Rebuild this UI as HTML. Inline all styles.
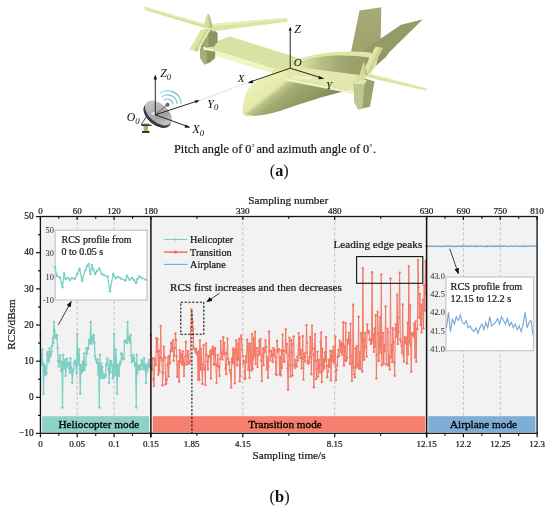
<!DOCTYPE html>
<html><head><meta charset="utf-8"><title>RCS figure</title>
<style>html,body{margin:0;padding:0;background:#fff;}svg{display:block;}#chart text{stroke:#1a1a1a;stroke-width:0.24px;} #chart text.s{stroke-width:0.05px;} #chart text.b{fill:#000;stroke:#000;stroke-width:0.3px;}</style>
</head><body>
<svg width="550" height="511" viewBox="0 0 550 511">
<defs><marker id="mt" viewBox="-2 -2 4 4" markerWidth="4" markerHeight="4" markerUnits="userSpaceOnUse"><circle r="1.25" fill="#7dcfc3"/></marker><marker id="mr" viewBox="-2 -2 4 4" markerWidth="4" markerHeight="4" markerUnits="userSpaceOnUse"><circle r="1.2" fill="#f47866"/></marker><marker id="ah" viewBox="0 0 10 10" refX="9" refY="5" markerWidth="6" markerHeight="6" orient="auto" markerUnits="userSpaceOnUse"><path d="M0,1 L10,5 L0,9 z" fill="#111"/></marker></defs>
<rect width="550" height="511" fill="#fff"/>
<g id="chart">
<rect x="40.4" y="216.5" width="496.7" height="216.8" fill="#f2f2f2"/>
<line x1="77.2" y1="216.5" x2="77.2" y2="433.3" stroke="#b4b4b4" stroke-width="0.8" stroke-dasharray="3,2.3"/>
<line x1="114.1" y1="216.5" x2="114.1" y2="433.3" stroke="#b4b4b4" stroke-width="0.8" stroke-dasharray="3,2.3"/>
<line x1="242.8" y1="216.5" x2="242.8" y2="433.3" stroke="#b4b4b4" stroke-width="0.8" stroke-dasharray="3,2.3"/>
<line x1="334.7" y1="216.5" x2="334.7" y2="433.3" stroke="#b4b4b4" stroke-width="0.8" stroke-dasharray="3,2.3"/>
<line x1="463.4" y1="216.5" x2="463.4" y2="433.3" stroke="#b4b4b4" stroke-width="0.8" stroke-dasharray="3,2.3"/>
<line x1="500.3" y1="216.5" x2="500.3" y2="433.3" stroke="#b4b4b4" stroke-width="0.8" stroke-dasharray="3,2.3"/>
<rect x="42.2" y="416.2" width="106.9" height="15.8" fill="#8ed1c7"/>
<rect x="152.8" y="416.2" width="272.3" height="15.8" fill="#f67f6f"/>
<rect x="428.3" y="416.2" width="107.0" height="15.8" fill="#7eadd5"/>
<text x="98.9" y="427.7" font-size="11.25" text-anchor="middle" class="b" fill="#111" font-family="Liberation Serif, Times New Roman, serif">Heliocopter mode</text>
<text x="285" y="427.7" font-size="11.25" text-anchor="middle" class="b" fill="#111" font-family="Liberation Serif, Times New Roman, serif">Transition mode</text>
<text x="483.5" y="427.7" font-size="11.25" text-anchor="middle" class="b" fill="#111" font-family="Liberation Serif, Times New Roman, serif">Airplane mode</text>
<polyline points="40.4,334.1 41.0,364.8 41.6,362.8 42.2,349.6 42.9,363.4 43.5,393.7 44.1,364.8 44.7,366.4 45.3,375.0 45.9,366.5 46.5,373.6 47.2,354.2 47.8,352.1 48.4,362.3 49.0,360.3 49.6,348.3 50.2,356.8 50.8,354.4 51.5,351.5 52.1,346.0 52.7,338.5 53.3,343.1 53.9,322.1 54.5,330.6 55.1,337.3 55.7,334.7 56.4,338.8 57.0,335.1 57.6,347.8 58.2,361.3 58.8,366.5 59.4,361.1 60.0,355.6 60.7,361.6 61.3,370.7 61.9,363.0 62.5,407.4 63.1,354.7 63.7,368.6 64.3,365.1 65.0,359.9 65.6,375.7 66.2,367.2 66.8,358.8 67.4,366.1 68.0,364.0 68.6,362.8 69.3,368.2 69.9,372.6 70.5,358.6 71.1,367.8 71.7,371.6 72.3,382.8 72.9,371.2 73.5,368.7 74.2,363.1 74.8,362.0 75.4,360.5 76.0,365.3 76.6,373.4 77.2,334.1 77.8,364.8 78.5,358.9 79.1,349.6 79.7,368.7 80.3,393.7 80.9,364.8 81.5,372.7 82.1,370.7 82.8,361.7 83.4,370.3 84.0,353.4 84.6,369.8 85.2,365.2 85.8,364.8 86.4,348.3 87.1,353.5 87.7,348.5 88.3,348.7 88.9,340.1 89.5,343.0 90.1,343.1 90.7,322.1 91.4,343.8 92.0,337.3 92.6,336.3 93.2,341.6 93.8,335.1 94.4,343.1 95.0,355.8 95.7,358.9 96.3,360.5 96.9,363.1 97.5,359.6 98.1,374.4 98.7,363.0 99.3,407.4 99.9,354.7 100.6,377.2 101.2,363.7 101.8,378.0 102.4,366.9 103.0,375.3 103.6,377.7 104.2,374.8 104.9,377.2 105.5,375.4 106.1,364.6 106.7,363.8 107.3,358.6 107.9,365.3 108.5,368.9 109.2,382.8 109.8,360.8 110.4,372.2 111.0,360.9 111.6,364.5 112.2,364.7 112.8,378.4 113.5,376.8 114.1,334.1 114.7,364.8 115.3,375.0 115.9,349.6 116.5,365.9 117.1,393.7 117.8,364.8 118.4,365.8 119.0,375.7 119.6,365.0 120.2,362.0 120.8,362.6 121.4,353.5 122.0,354.2 122.7,359.0 123.3,359.2 123.9,358.3 124.5,341.7 125.1,341.4 125.7,340.6 126.3,342.2 127.0,343.1 127.6,322.1 128.2,339.3 128.8,337.3 129.4,340.4 130.0,342.6 130.6,335.1 131.3,356.0 131.9,362.0 132.5,359.8 133.1,355.2 133.7,360.9 134.3,358.0 134.9,365.8 135.6,363.0 136.2,407.4 136.8,354.7 137.4,373.5 138.0,366.1 138.6,365.4 139.2,369.6 139.8,367.1 140.5,369.5 141.1,364.9 141.7,360.5 142.3,361.8 142.9,365.6 143.5,369.0 144.1,358.6 144.8,369.5 145.4,365.8 146.0,382.8 146.6,364.7 147.2,370.6 147.8,363.5 148.4,366.4 149.1,360.0 149.7,365.9 150.3,367.7" fill="none" stroke="#7dcfc3" stroke-width="1.2" marker-start="url(#mt)" marker-mid="url(#mt)" marker-end="url(#mt)"/>
<polyline points="150.9,334.8 151.5,368.4 152.1,370.1 152.7,358.2 153.4,379.5 154.0,385.9 154.6,358.5 155.2,360.1 155.8,365.0 156.4,338.3 157.0,351.8 157.6,338.9 158.3,374.6 158.9,350.8 159.5,371.7 160.1,357.5 160.7,325.9 161.3,358.0 161.9,360.3 162.5,385.3 163.2,372.7 163.8,346.6 164.4,357.4 165.0,357.8 165.6,384.3 166.2,383.6 166.8,379.8 167.4,365.1 168.1,357.3 168.7,376.4 169.3,355.8 169.9,363.4 170.5,351.8 171.1,342.7 171.7,349.9 172.3,350.7 173.0,340.1 173.6,360.8 174.2,355.1 174.8,347.9 175.4,333.4 176.0,339.9 176.6,356.3 177.2,376.8 177.9,364.0 178.5,361.2 179.1,381.7 179.7,350.2 180.3,353.3 180.9,362.3 181.5,354.4 182.1,364.5 182.8,351.3 183.4,360.0 184.0,376.1 184.6,363.9 185.2,356.4 185.8,341.8 186.4,364.5 187.0,362.4 187.7,350.9 188.3,354.5 188.9,363.8 189.5,363.0 190.1,361.2 190.7,327.9 191.3,309.5 191.9,314.5 192.6,321.4 193.2,328.6 193.8,347.8 194.4,348.5 195.0,349.6 195.6,352.1 196.2,348.9 196.9,353.2 197.5,354.7 198.1,379.8 198.7,351.3 199.3,379.8 199.9,340.4 200.5,369.9 201.1,348.6 201.8,367.9 202.4,383.7 203.0,364.7 203.6,345.2 204.2,369.2 204.8,367.5 205.4,385.1 206.0,343.5 206.7,354.9 207.3,361.5 207.9,369.3 208.5,357.6 209.1,355.9 209.7,355.6 210.3,351.3 210.9,378.5 211.6,349.5 212.2,353.9 212.8,346.8 213.4,349.8 214.0,364.8 214.6,349.3 215.2,348.0 215.8,363.9 216.5,383.1 217.1,365.8 217.7,354.9 218.3,366.4 218.9,366.5 219.5,376.0 220.1,358.9 220.7,341.1 221.4,353.1 222.0,357.0 222.6,359.6 223.2,337.3 223.8,354.4 224.4,342.8 225.0,353.1 225.6,368.7 226.3,374.0 226.9,353.6 227.5,338.8 228.1,359.1 228.7,364.3 229.3,361.9 229.9,370.2 230.5,372.9 231.2,387.4 231.8,358.6 232.4,363.3 233.0,348.4 233.6,363.3 234.2,349.8 234.8,383.2 235.4,352.5 236.1,340.4 236.7,359.1 237.3,365.2 237.9,343.8 238.5,359.5 239.1,338.9 239.7,381.2 240.3,375.9 241.0,335.8 241.6,338.9 242.2,349.6 242.8,356.1 243.4,363.6 244.0,361.1 244.6,379.0 245.3,378.4 245.9,356.3 246.5,362.1 247.1,339.7 247.7,349.4 248.3,369.7 248.9,343.6 249.5,377.8 250.2,343.6 250.8,360.1 251.4,370.5 252.0,334.0 252.6,368.8 253.2,358.3 253.8,337.8 254.4,356.1 255.1,331.7 255.7,364.0 256.3,348.3 256.9,348.1 257.5,366.9 258.1,355.3 258.7,351.3 259.3,340.6 260.0,354.2 260.6,339.0 261.2,360.7 261.8,381.1 262.4,356.6 263.0,348.7 263.6,365.1 264.2,347.9 264.9,351.7 265.5,340.4 266.1,346.7 266.7,369.4 267.3,357.5 267.9,377.8 268.5,366.8 269.1,331.5 269.8,351.2 270.4,360.2 271.0,356.3 271.6,350.6 272.2,354.4 272.8,361.9 273.4,347.9 274.0,354.9 274.7,349.9 275.3,356.9 275.9,374.0 276.5,375.1 277.1,340.8 277.7,352.0 278.3,350.9 278.9,349.3 279.6,374.3 280.2,357.1 280.8,375.4 281.4,350.4 282.0,368.1 282.6,334.4 283.2,350.9 283.8,361.6 284.5,361.8 285.1,350.6 285.7,329.3 286.3,352.5 286.9,343.9 287.5,368.2 288.1,389.8 288.8,355.8 289.4,337.6 290.0,365.5 290.6,376.5 291.2,340.0 291.8,352.4 292.4,375.5 293.0,344.3 293.7,336.5 294.3,365.6 294.9,367.7 295.5,360.1 296.1,364.1 296.7,366.4 297.3,356.8 297.9,360.6 298.6,333.1 299.2,354.8 299.8,337.5 300.4,358.1 301.0,350.0 301.6,368.2 302.2,358.6 302.8,336.0 303.5,379.5 304.1,353.6 304.7,357.6 305.3,361.3 305.9,352.4 306.5,325.2 307.1,342.6 307.7,363.5 308.4,360.5 309.0,363.1 309.6,357.3 310.2,336.9 310.8,352.5 311.4,374.3 312.0,325.7 312.6,348.6 313.3,354.9 313.9,387.3 314.5,348.3 315.1,334.1 315.7,361.0 316.3,379.0 316.9,369.0 317.5,351.7 318.2,376.6 318.8,359.9 319.4,365.2 320.0,372.4 320.6,341.9 321.2,332.5 321.8,382.0 322.4,348.7 323.1,370.4 323.7,359.2 324.3,367.9 324.9,352.3 325.5,360.9 326.1,337.0 326.7,365.9 327.3,377.2 328.0,371.4 328.6,359.6 329.2,367.0 329.8,361.1 330.4,350.9 331.0,380.3 331.6,356.3 332.2,350.7 332.9,360.8 333.5,346.9 334.1,363.3 334.7,359.0 335.3,336.4 335.9,380.3 336.5,370.2 337.2,365.1 337.8,356.9 338.4,349.9 339.0,355.9 339.6,340.7 340.2,344.9 340.8,351.9 341.4,343.0 342.1,354.6 342.7,345.1 343.3,322.2 343.9,365.5 344.5,346.0 345.1,360.5 345.7,323.3 346.3,360.9 347.0,357.9 347.6,339.7 348.2,343.3 348.8,332.6 349.4,340.0 350.0,363.8 350.6,323.8 351.2,356.2 351.9,380.9 352.5,363.1 353.1,304.8 353.7,367.4 354.3,374.3 354.9,377.3 355.5,348.5 356.1,367.7 356.8,346.2 357.4,364.2 358.0,366.5 358.6,316.7 359.2,368.7 359.8,352.4 360.4,369.0 361.0,333.3 361.7,337.9 362.3,371.5 362.9,268.3 363.5,359.7 364.1,359.3 364.7,339.6 365.3,332.9 365.9,347.0 366.6,356.5 367.2,324.4 367.8,330.8 368.4,332.5 369.0,331.4 369.6,339.7 370.2,339.0 370.8,343.9 371.5,343.3 372.1,272.3 372.7,340.6 373.3,334.6 373.9,351.7 374.5,328.4 375.1,346.7 375.7,315.2 376.4,378.4 377.0,354.8 377.6,311.7 378.2,333.7 378.8,361.0 379.4,347.0 380.0,317.3 380.7,352.6 381.3,274.4 381.9,365.2 382.5,336.6 383.1,333.0 383.7,363.6 384.3,345.3 384.9,351.1 385.6,306.5 386.2,364.2 386.8,364.4 387.4,328.7 388.0,332.5 388.6,365.9 389.2,356.1 389.8,369.6 390.5,278.4 391.1,357.5 391.7,345.0 392.3,361.9 392.9,328.2 393.5,342.4 394.1,362.3 394.7,375.7 395.4,329.6 396.0,324.3 396.6,337.0 397.2,294.7 397.8,343.9 398.4,331.9 399.0,317.6 399.6,272.6 400.3,339.6 400.9,341.9 401.5,345.8 402.1,352.6 402.7,304.4 403.3,355.0 403.9,361.6 404.5,337.1 405.2,343.3 405.8,339.5 406.4,337.4 407.0,363.3 407.6,322.7 408.2,354.4 408.8,266.1 409.4,342.5 410.1,305.3 410.7,345.0 411.3,371.7 411.9,333.7 412.5,333.0 413.1,335.0 413.7,336.4 414.3,323.7 415.0,357.2 415.6,321.4 416.2,361.7 416.8,328.6 417.4,329.1 418.0,260.3 418.6,287.4 419.2,317.8 419.9,293.9 420.5,325.0 421.1,304.8 421.7,332.2 422.3,310.9 422.9,299.7 423.5,328.6 424.1,285.3 424.8,310.6 425.4,261.1 426.0,294.3 426.6,246.2" fill="none" stroke="#f47866" stroke-width="1.0" marker-start="url(#mr)" marker-mid="url(#mr)" marker-end="url(#mr)"/>
<polyline points="426.6,246.2 427.2,246.1 427.8,246.0 428.4,245.9 429.1,246.1 429.7,246.0 430.3,246.5 430.9,246.3 431.5,245.9 432.1,246.1 432.7,246.0 433.4,246.5 434.0,246.3 434.6,246.4 435.2,246.2 435.8,246.2 436.4,246.6 437.0,246.4 437.7,246.4 438.3,246.0 438.9,246.1 439.5,246.5 440.1,246.0 440.7,246.5 441.3,246.2 441.9,246.5 442.6,246.6 443.2,246.0 443.8,246.4 444.4,246.4 445.0,245.9 445.6,246.0 446.2,246.4 446.9,245.9 447.5,246.2 448.1,246.1 448.7,246.4 449.3,245.9 449.9,246.1 450.5,245.9 451.2,246.0 451.8,246.4 452.4,246.3 453.0,246.5 453.6,246.5 454.2,246.5 454.8,246.4 455.5,246.2 456.1,246.6 456.7,246.1 457.3,246.3 457.9,246.4 458.5,246.0 459.1,246.2 459.8,246.4 460.4,246.2 461.0,246.1 461.6,246.5 462.2,245.9 462.8,246.5 463.4,246.1 464.0,246.0 464.7,246.5 465.3,246.0 465.9,246.3 466.5,246.2 467.1,246.6 467.7,246.5 468.3,246.4 469.0,245.9 469.6,246.4 470.2,246.1 470.8,246.0 471.4,245.9 472.0,246.3 472.6,246.3 473.3,246.2 473.9,246.1 474.5,246.5 475.1,246.1 475.7,246.0 476.3,246.0 476.9,246.5 477.6,245.9 478.2,246.5 478.8,246.3 479.4,246.2 480.0,246.0 480.6,246.3 481.2,246.0 481.9,246.2 482.5,246.4 483.1,246.4 483.7,246.4 484.3,246.5 484.9,246.5 485.5,246.1 486.1,245.9 486.8,246.5 487.4,246.5 488.0,245.9 488.6,246.2 489.2,246.3 489.8,246.4 490.4,246.2 491.1,246.0 491.7,246.3 492.3,246.3 492.9,246.5 493.5,246.0 494.1,246.5 494.7,246.2 495.4,246.0 496.0,246.5 496.6,246.1 497.2,245.9 497.8,246.1 498.4,246.0 499.0,246.5 499.7,246.3 500.3,246.5 500.9,246.0 501.5,246.4 502.1,246.3 502.7,245.9 503.3,246.0 504.0,245.9 504.6,246.3 505.2,246.2 505.8,246.1 506.4,246.2 507.0,246.4 507.6,246.3 508.2,246.5 508.9,246.3 509.5,245.9 510.1,245.9 510.7,246.2 511.3,246.2 511.9,246.3 512.5,246.5 513.2,246.4 513.8,246.1 514.4,246.0 515.0,246.3 515.6,246.0 516.2,246.1 516.8,246.1 517.5,246.1 518.1,246.1 518.7,246.3 519.3,246.1 519.9,246.4 520.5,246.2 521.1,246.1 521.8,246.1 522.4,246.4 523.0,245.9 523.6,246.1 524.2,246.2 524.8,246.6 525.4,246.2 526.1,246.4 526.7,246.1 527.3,246.3 527.9,246.0 528.5,246.1 529.1,246.0 529.7,246.3 530.3,246.1 531.0,246.1 531.6,246.0 532.2,246.3 532.8,246.0 533.4,246.0 534.0,246.1 534.6,245.9 535.3,245.9 535.9,246.2 536.5,246.2 537.1,246.5" fill="none" stroke="#72a7d6" stroke-width="1.3"/>
<line x1="191.9" y1="310.4" x2="191.9" y2="433" stroke="#111" stroke-width="1.1" stroke-dasharray="2.2,1.6"/>
<rect x="180.8" y="302.2" width="23" height="32" fill="none" stroke="#111" stroke-width="1.1" stroke-dasharray="2.2,1.6"/>
<rect x="356.6" y="256.6" width="66.2" height="26.7" fill="none" stroke="#111" stroke-width="1.1"/>
<text x="170.1" y="291.3" font-size="11.15" fill="#1a1a1a" font-family="Liberation Serif, Times New Roman, serif">RCS first increases and then decreases</text>
<line x1="219.5" y1="293.2" x2="206.8" y2="301.8" stroke="#111" stroke-width="0.8" marker-end="url(#ah)"/>
<text x="333.4" y="247.9" font-size="11.2" fill="#1a1a1a" font-family="Liberation Serif, Times New Roman, serif">Leading edge peaks</text>
<line x1="163.8" y1="239.5" x2="187.6" y2="239.5" stroke="#7dcfc3" stroke-width="1"/><circle cx="175.7" cy="239.5" r="1.2" fill="#7dcfc3"/>
<line x1="163.8" y1="252.1" x2="187.6" y2="252.1" stroke="#f47866" stroke-width="1.6"/><circle cx="175.7" cy="252.1" r="1.5" fill="#f06050"/>
<line x1="163.8" y1="264.4" x2="187.6" y2="264.4" stroke="#72a7d6" stroke-width="1.1"/>
<text x="190.1" y="242.9" font-size="10.2" fill="#1a1a1a" font-family="Liberation Serif, Times New Roman, serif">Helicopter</text>
<text x="190.1" y="255.5" font-size="10.2" fill="#1a1a1a" font-family="Liberation Serif, Times New Roman, serif">Transition</text>
<text x="190.1" y="268" font-size="10.2" fill="#1a1a1a" font-family="Liberation Serif, Times New Roman, serif">Airplane</text>
<rect x="55.2" y="230.3" width="91.8" height="69.8" fill="#fff" stroke="#c9c9c9" stroke-width="1.3"/>
<polyline points="55.0,267.3 57.0,276.0 60.0,277.4 62.5,287.2 64.1,273.3 65.7,279.0 68.0,278.0 70.0,280.0 72.0,278.0 74.7,279.0 77.2,274.1 79.6,268.9 82.1,280.6 85.4,270.0 87.0,266.0 88.6,264.0 90.3,274.1 91.9,265.1 93.5,270.0 95.2,274.1 97.0,271.0 99.3,268.4 101.7,274.1 104.0,275.0 107.5,276.6 109.9,291.3 113.2,274.1 115.6,278.2 118.0,277.0 121.0,278.5 125.5,280.6 127.1,275.7 129.6,279.8 132.0,278.0 134.0,280.0 136.1,283.1 137.5,279.0 139.4,276.6 142.0,278.0 145.9,279.8" fill="none" stroke="#7dcfc3" stroke-width="1.3" marker-start="url(#mt)" marker-mid="url(#mt)" marker-end="url(#mt)"/>
<text x="61.5" y="242.5" font-size="10" fill="#1a1a1a" font-family="Liberation Serif, Times New Roman, serif">RCS profile from</text>
<text x="61.5" y="254.8" font-size="10" fill="#1a1a1a" font-family="Liberation Serif, Times New Roman, serif">0 to 0.05 s</text>
<text x="53.8" y="232.9" font-size="8.3" text-anchor="end" class="s" fill="#333" font-family="Liberation Serif, Times New Roman, serif">50</text>
<text x="53.8" y="256.2" font-size="8.3" text-anchor="end" class="s" fill="#333" font-family="Liberation Serif, Times New Roman, serif">30</text>
<text x="53.8" y="279.6" font-size="8.3" text-anchor="end" class="s" fill="#333" font-family="Liberation Serif, Times New Roman, serif">10</text>
<text x="53.8" y="302.6" font-size="8.3" text-anchor="end" class="s" fill="#333" font-family="Liberation Serif, Times New Roman, serif">-10</text>
<line x1="58.4" y1="324.8" x2="71.2" y2="301.6" stroke="#111" stroke-width="0.8" marker-end="url(#ah)"/>
<rect x="445.9" y="277" width="87.6" height="73.6" fill="#fff" stroke="#c9c9c9" stroke-width="1.3"/>
<polyline points="446.5,327.8 448.5,312.3 450.4,331.6 452.4,318.6 454.4,324.1 456.3,316.7 458.3,320.4 460.3,314.9 462.2,322.3 464.2,324.1 466.2,320.4 468.1,327.8 470.1,326.0 472.1,329.7 474.0,331.6 476.0,327.8 478.0,333.4 479.9,327.8 481.9,324.1 483.9,329.7 485.8,322.3 487.8,327.8 489.8,316.7 491.7,326.0 493.7,324.1 495.6,322.3 497.6,318.6 499.6,324.1 501.5,316.7 503.5,320.4 505.5,324.1 507.4,318.6 509.4,326.0 511.4,322.3 513.3,327.8 515.3,324.1 517.3,329.7 519.2,326.0 521.2,331.6 523.2,324.1 525.1,312.3 527.1,327.8 529.1,322.3 531.0,320.4 533.0,335.3" fill="none" stroke="#72a7d6" stroke-width="1.1"/>
<text x="450.6" y="289.6" font-size="10.25" fill="#1a1a1a" font-family="Liberation Serif, Times New Roman, serif">RCS profile from</text>
<text x="450.6" y="301.6" font-size="10.25" fill="#1a1a1a" font-family="Liberation Serif, Times New Roman, serif">12.15 to 12.2 s</text>
<text x="444.8" y="279.2" font-size="8.3" text-anchor="end" class="s" fill="#333" font-family="Liberation Serif, Times New Roman, serif">43.0</text>
<text x="444.8" y="296.8" font-size="8.3" text-anchor="end" class="s" fill="#333" font-family="Liberation Serif, Times New Roman, serif">42.5</text>
<text x="444.8" y="315.0" font-size="8.3" text-anchor="end" class="s" fill="#333" font-family="Liberation Serif, Times New Roman, serif">42.0</text>
<text x="444.8" y="334.0" font-size="8.3" text-anchor="end" class="s" fill="#333" font-family="Liberation Serif, Times New Roman, serif">41.5</text>
<text x="444.8" y="352.4" font-size="8.3" text-anchor="end" class="s" fill="#333" font-family="Liberation Serif, Times New Roman, serif">41.0</text>
<line x1="449.7" y1="248.6" x2="458.4" y2="273.6" stroke="#111" stroke-width="0.8" marker-end="url(#ah)"/>
<rect x="40.4" y="216.5" width="496.7" height="216.8" fill="none" stroke="#111" stroke-width="1.3"/>
<line x1="150.9" y1="216.5" x2="150.9" y2="437.3" stroke="#111" stroke-width="1.5"/>
<line x1="426.6" y1="216.5" x2="426.6" y2="437.3" stroke="#111" stroke-width="1.5"/>
<line x1="36" y1="216.6" x2="40.4" y2="216.6" stroke="#111" stroke-width="1.2"/>
<text x="33.6" y="219.2" font-size="9.3" text-anchor="end" fill="#222" font-family="Liberation Serif, Times New Roman, serif">50</text>
<line x1="38" y1="234.7" x2="40.4" y2="234.7" stroke="#111" stroke-width="1.2"/>
<line x1="36" y1="252.7" x2="40.4" y2="252.7" stroke="#111" stroke-width="1.2"/>
<text x="33.6" y="255.3" font-size="9.3" text-anchor="end" fill="#222" font-family="Liberation Serif, Times New Roman, serif">40</text>
<line x1="38" y1="270.8" x2="40.4" y2="270.8" stroke="#111" stroke-width="1.2"/>
<line x1="36" y1="288.9" x2="40.4" y2="288.9" stroke="#111" stroke-width="1.2"/>
<text x="33.6" y="291.5" font-size="9.3" text-anchor="end" fill="#222" font-family="Liberation Serif, Times New Roman, serif">30</text>
<line x1="38" y1="307.0" x2="40.4" y2="307.0" stroke="#111" stroke-width="1.2"/>
<line x1="36" y1="325.0" x2="40.4" y2="325.0" stroke="#111" stroke-width="1.2"/>
<text x="33.6" y="327.6" font-size="9.3" text-anchor="end" fill="#222" font-family="Liberation Serif, Times New Roman, serif">20</text>
<line x1="38" y1="343.1" x2="40.4" y2="343.1" stroke="#111" stroke-width="1.2"/>
<line x1="36" y1="361.2" x2="40.4" y2="361.2" stroke="#111" stroke-width="1.2"/>
<text x="33.6" y="363.8" font-size="9.3" text-anchor="end" fill="#222" font-family="Liberation Serif, Times New Roman, serif">10</text>
<line x1="38" y1="379.2" x2="40.4" y2="379.2" stroke="#111" stroke-width="1.2"/>
<line x1="36" y1="397.3" x2="40.4" y2="397.3" stroke="#111" stroke-width="1.2"/>
<text x="33.6" y="399.9" font-size="9.3" text-anchor="end" fill="#222" font-family="Liberation Serif, Times New Roman, serif">0</text>
<line x1="38" y1="415.4" x2="40.4" y2="415.4" stroke="#111" stroke-width="1.2"/>
<line x1="36" y1="433.4" x2="40.4" y2="433.4" stroke="#111" stroke-width="1.2"/>
<text x="33.6" y="436.0" font-size="9.3" text-anchor="end" fill="#222" font-family="Liberation Serif, Times New Roman, serif">−10</text>
<line x1="40.4" y1="216.5" x2="40.4" y2="220.0" stroke="#111" stroke-width="1.2"/>
<text x="40.4" y="213.7" font-size="9.1" text-anchor="middle" fill="#222" font-family="Liberation Serif, Times New Roman, serif">0</text>
<line x1="77.2" y1="216.5" x2="77.2" y2="220.0" stroke="#111" stroke-width="1.2"/>
<text x="77.2" y="213.7" font-size="9.1" text-anchor="middle" fill="#222" font-family="Liberation Serif, Times New Roman, serif">60</text>
<line x1="114.1" y1="216.5" x2="114.1" y2="220.0" stroke="#111" stroke-width="1.2"/>
<text x="114.1" y="213.7" font-size="9.1" text-anchor="middle" fill="#222" font-family="Liberation Serif, Times New Roman, serif">120</text>
<line x1="150.9" y1="216.5" x2="150.9" y2="220.0" stroke="#111" stroke-width="1.2"/>
<text x="150.9" y="213.7" font-size="9.1" text-anchor="middle" fill="#222" font-family="Liberation Serif, Times New Roman, serif">180</text>
<line x1="242.8" y1="216.5" x2="242.8" y2="220.0" stroke="#111" stroke-width="1.2"/>
<text x="242.8" y="213.7" font-size="9.1" text-anchor="middle" fill="#222" font-family="Liberation Serif, Times New Roman, serif">330</text>
<line x1="334.7" y1="216.5" x2="334.7" y2="220.0" stroke="#111" stroke-width="1.2"/>
<text x="334.7" y="213.7" font-size="9.1" text-anchor="middle" fill="#222" font-family="Liberation Serif, Times New Roman, serif">480</text>
<line x1="426.6" y1="216.5" x2="426.6" y2="220.0" stroke="#111" stroke-width="1.2"/>
<text x="426.6" y="213.7" font-size="9.1" text-anchor="middle" fill="#222" font-family="Liberation Serif, Times New Roman, serif">630</text>
<line x1="463.4" y1="216.5" x2="463.4" y2="220.0" stroke="#111" stroke-width="1.2"/>
<text x="463.4" y="213.7" font-size="9.1" text-anchor="middle" fill="#222" font-family="Liberation Serif, Times New Roman, serif">690</text>
<line x1="500.3" y1="216.5" x2="500.3" y2="220.0" stroke="#111" stroke-width="1.2"/>
<text x="500.3" y="213.7" font-size="9.1" text-anchor="middle" fill="#222" font-family="Liberation Serif, Times New Roman, serif">750</text>
<line x1="537.1" y1="216.5" x2="537.1" y2="220.0" stroke="#111" stroke-width="1.2"/>
<text x="537.1" y="213.7" font-size="9.1" text-anchor="middle" fill="#222" font-family="Liberation Serif, Times New Roman, serif">810</text>
<line x1="58.8" y1="216.5" x2="58.8" y2="218.7" stroke="#111" stroke-width="1.2"/>
<line x1="95.7" y1="216.5" x2="95.7" y2="218.7" stroke="#111" stroke-width="1.2"/>
<line x1="132.5" y1="216.5" x2="132.5" y2="218.7" stroke="#111" stroke-width="1.2"/>
<line x1="196.9" y1="216.5" x2="196.9" y2="218.7" stroke="#111" stroke-width="1.2"/>
<line x1="288.8" y1="216.5" x2="288.8" y2="218.7" stroke="#111" stroke-width="1.2"/>
<line x1="380.7" y1="216.5" x2="380.7" y2="218.7" stroke="#111" stroke-width="1.2"/>
<line x1="445.0" y1="216.5" x2="445.0" y2="218.7" stroke="#111" stroke-width="1.2"/>
<line x1="481.9" y1="216.5" x2="481.9" y2="218.7" stroke="#111" stroke-width="1.2"/>
<line x1="518.7" y1="216.5" x2="518.7" y2="218.7" stroke="#111" stroke-width="1.2"/>
<line x1="40.4" y1="433.3" x2="40.4" y2="437.3" stroke="#111" stroke-width="1.2"/>
<text x="40.4" y="447.1" font-size="9" text-anchor="middle" fill="#222" font-family="Liberation Serif, Times New Roman, serif">0</text>
<line x1="77.2" y1="433.3" x2="77.2" y2="437.3" stroke="#111" stroke-width="1.2"/>
<text x="77.2" y="447.1" font-size="9" text-anchor="middle" fill="#222" font-family="Liberation Serif, Times New Roman, serif">0.05</text>
<line x1="114.1" y1="433.3" x2="114.1" y2="437.3" stroke="#111" stroke-width="1.2"/>
<text x="114.1" y="447.1" font-size="9" text-anchor="middle" fill="#222" font-family="Liberation Serif, Times New Roman, serif">0.1</text>
<line x1="150.9" y1="433.3" x2="150.9" y2="437.3" stroke="#111" stroke-width="1.2"/>
<text x="150.9" y="447.1" font-size="9" text-anchor="middle" fill="#222" font-family="Liberation Serif, Times New Roman, serif">0.15</text>
<line x1="242.8" y1="433.3" x2="242.8" y2="437.3" stroke="#111" stroke-width="1.2"/>
<text x="242.8" y="447.1" font-size="9" text-anchor="middle" fill="#222" font-family="Liberation Serif, Times New Roman, serif">4.15</text>
<line x1="334.7" y1="433.3" x2="334.7" y2="437.3" stroke="#111" stroke-width="1.2"/>
<text x="334.7" y="447.1" font-size="9" text-anchor="middle" fill="#222" font-family="Liberation Serif, Times New Roman, serif">8.15</text>
<line x1="426.6" y1="433.3" x2="426.6" y2="437.3" stroke="#111" stroke-width="1.2"/>
<text x="426.6" y="447.1" font-size="9" text-anchor="middle" fill="#222" font-family="Liberation Serif, Times New Roman, serif">12.15</text>
<line x1="463.4" y1="433.3" x2="463.4" y2="437.3" stroke="#111" stroke-width="1.2"/>
<text x="463.4" y="447.1" font-size="9" text-anchor="middle" fill="#222" font-family="Liberation Serif, Times New Roman, serif">12.2</text>
<line x1="500.3" y1="433.3" x2="500.3" y2="437.3" stroke="#111" stroke-width="1.2"/>
<text x="500.3" y="447.1" font-size="9" text-anchor="middle" fill="#222" font-family="Liberation Serif, Times New Roman, serif">12.25</text>
<line x1="537.1" y1="433.3" x2="537.1" y2="437.3" stroke="#111" stroke-width="1.2"/>
<text x="537.1" y="447.1" font-size="9" text-anchor="middle" fill="#222" font-family="Liberation Serif, Times New Roman, serif">12.3</text>
<text x="191.5" y="447.1" font-size="9" text-anchor="middle" fill="#222" font-family="Liberation Serif, Times New Roman, serif">1.85</text>
<line x1="58.8" y1="433.3" x2="58.8" y2="435.8" stroke="#111" stroke-width="1.2"/>
<line x1="95.7" y1="433.3" x2="95.7" y2="435.8" stroke="#111" stroke-width="1.2"/>
<line x1="132.5" y1="433.3" x2="132.5" y2="435.8" stroke="#111" stroke-width="1.2"/>
<line x1="196.9" y1="433.3" x2="196.9" y2="435.8" stroke="#111" stroke-width="1.2"/>
<line x1="288.8" y1="433.3" x2="288.8" y2="435.8" stroke="#111" stroke-width="1.2"/>
<line x1="380.7" y1="433.3" x2="380.7" y2="435.8" stroke="#111" stroke-width="1.2"/>
<line x1="445.0" y1="433.3" x2="445.0" y2="435.8" stroke="#111" stroke-width="1.2"/>
<line x1="481.9" y1="433.3" x2="481.9" y2="435.8" stroke="#111" stroke-width="1.2"/>
<line x1="518.7" y1="433.3" x2="518.7" y2="435.8" stroke="#111" stroke-width="1.2"/>
<text x="288.2" y="204" font-size="11.2" text-anchor="middle" fill="#1a1a1a" font-family="Liberation Serif, Times New Roman, serif">Sampling number</text>
<text x="289" y="458.6" font-size="11.2" text-anchor="middle" fill="#1a1a1a" font-family="Liberation Serif, Times New Roman, serif">Sampling time/s</text>
<text transform="translate(15,324.5) rotate(-90)" font-size="11.2" text-anchor="middle" fill="#1a1a1a" font-family="Liberation Serif, Times New Roman, serif">RCS/dBsm</text>
</g>
<text x="279.6" y="501.6" font-size="16.4" text-anchor="middle" fill="#111" font-family="Liberation Serif, Times New Roman, serif">(<tspan font-weight="bold">b</tspan>)</text>
<g id="panelA">
<defs>
<linearGradient id="fusG" gradientUnits="userSpaceOnUse" x1="268" y1="77.5" x2="301.2" y2="120.2">
<stop offset="0" stop-color="#e9f0b4"/><stop offset="0.24" stop-color="#e2e9a9"/><stop offset="0.32" stop-color="#bcc389"/><stop offset="0.45" stop-color="#a2a973"/><stop offset="1" stop-color="#838c58"/>
</linearGradient>
<linearGradient id="finG" x1="0" y1="0" x2="0" y2="1">
<stop offset="0" stop-color="#a7ac77"/><stop offset="1" stop-color="#9ca16d"/>
</linearGradient>
<linearGradient id="backG" gradientUnits="userSpaceOnUse" x1="298" y1="60" x2="368" y2="68">
<stop offset="0" stop-color="#dfe6a7"/><stop offset="0.3" stop-color="#bcc387"/><stop offset="0.6" stop-color="#a0a770"/><stop offset="1" stop-color="#959c67"/>
</linearGradient>
<linearGradient id="dishG" x1="0" y1="0" x2="1" y2="0.3">
<stop offset="0" stop-color="#cfcfcf"/><stop offset="0.45" stop-color="#b4b4b4"/><stop offset="0.75" stop-color="#a2a2a2"/><stop offset="1" stop-color="#c4c4c4"/>
</linearGradient>
<linearGradient id="arcG" gradientUnits="userSpaceOnUse" x1="159" y1="92" x2="182" y2="104">
<stop offset="0" stop-color="#c6e6ea"/><stop offset="0.5" stop-color="#62bcc8"/><stop offset="1" stop-color="#9ad2da"/>
</linearGradient>
</defs>
<!-- V-tail left fin -->
<polygon points="359.5,10.5 381.3,7.2 380.6,43.6 358.5,55 350.7,53.5" fill="url(#finG)"/>
<!-- V-tail right fin -->
<polygon points="357,55 400.9,25 422.7,19.6 389,52.4 372,62" fill="#949b66"/>
<polygon points="357,55 400.9,25 422.7,19.6 420,21.2 401,26.5 359,56" fill="#969d69"/>
<!-- stab -->
<polygon points="366,60 389.1,52.4 385.5,57.3 374.5,67.3 368,66" fill="#8f9763"/>
<!-- fuselage rear -->
<path d="M286,64 C298,58.5 312,54.5 330,52.6 C345,51.2 360,51.2 370,52.5 L378,58 L376,66 L370,74 L358,76 C340,75 318,72 300,70 Z" fill="#e0e6a9"/>
<path d="M298,62.5 C308,58.5 321,56.3 335,55.6 C348,55.2 360,55.8 369,57.6 L367,73 L358,75.6 L290,66.5 Z" fill="url(#backG)"/>
<!-- main left wing -->
<polygon points="229.5,36.3 300,58.5 292,70 273.2,68.6 203.2,46.8" fill="#dae2a3"/>
<polygon points="203.2,47 273.2,68.6 272,73 203.6,52.6" fill="#f0f5c3"/>
<!-- fuselage -->
<polygon points="272,73 273.2,68.6 292,70 300,64 302,72 270,77" fill="#e2e9a9"/>
<path d="M242.6,113.5 C242.2,106 243.5,98 247.5,90.5 C252,84 258,80 266,76.5 C276,73 284,71.5 292,71 L340,80 L358,86 L356,88.5 C345,91 332,94.5 320,97.8 C305,102.5 292,107 280,111 C268,114.5 256,116.5 246,116 Z" fill="url(#fusG)"/>
<path d="M243.3,113.4 C246,114.6 249,115 252,115 L252,116.2 C249,116.4 246.5,116.3 245,116 Z" fill="#dfe6aa"/>
<!-- right wing -->
<polygon points="288,66 360,75 356,91.5 286,78" fill="#e3e9ae"/>
<polygon points="286,78 356,91.5 355.5,94.5 285,80.5" fill="#eef3c3"/>
<polygon points="292,76 310,76.5 312,79 293,79" fill="#eef3c6"/>
<!-- right nacelle -->
<polygon points="353.6,81.4 365.5,78.6 374.5,81.4 370,106.8 358.2,109.5 354.5,102.3" fill="#9ba26c"/>
<polygon points="353.6,81.4 365.5,78.6 364.5,84 362.5,108.7 358.2,109.5 354.5,102.3" fill="#bfc68e"/><polygon points="353.6,81.4 362,79.4 367,80.5 364.5,84 355,84" fill="#e2e9ad"/>
<!-- right rotor -->
<polygon points="362,73 375.5,46.5 382.7,48 369,75" fill="#dfe6a5"/>
<polygon points="379,47.5 382.7,48 369,75 366.5,74.5" fill="#ccd393"/>
<polygon points="366,72.5 427,88.5 426.5,90.8 366,77" fill="#dce3a3"/>
<polygon points="366,72.5 427,88.5 427,89.3 366,74" fill="#eaf0bb"/>
<polygon points="359.5,75 363.6,61.4 368,75" fill="#d3da9a"/>
<polygon points="363.6,61.4 368,75 365,75" fill="#bac085"/>
<polygon points="357,75 366,75 366,79 355,81" fill="#d6dd9f"/>
<!-- left rotor -->
<polygon points="204,29 213,29.5 217.6,33 217.6,42 214,46.5 206,47.5 203,40" fill="#8d9562"/>
<polygon points="204,29 208,29.2 208.5,46.8 206,47.5 203,40" fill="#a3aa76"/>
<polygon points="201.5,40 207,40 207,47 203.2,47 203.6,52 200,52" fill="#a0a773"/>
<polygon points="200,49.5 215.2,51.5 215.2,58 210,62.5 204.5,64.6 200.5,58.5" fill="#8d955f"/>
<polygon points="200,49.5 206.5,50.5 207,63.8 204.5,64.6 200.5,58.5" fill="#a7ae79"/>
<polygon points="144.1,6.5 204,23.5 205,28 145,10" fill="#d6dd9d"/>
<polygon points="144.1,6.5 204,23.5 204.3,25.3 144.3,8.3" fill="#e8eeb8"/>
<polygon points="211,24 287,17.8 287.5,21.8 212,31.5" fill="#dce3a4"/>
<polygon points="211,24 287,17.8 287.2,19.4 211.5,26.5" fill="#e9efbb"/>
<polygon points="200.5,30 211.5,27.8 197.5,51.5 189.5,49.5" fill="#dde4a4"/>
<polygon points="207,29 211.5,27.8 197.5,51.5 194,50.6" fill="#cad192"/>
<polygon points="209.5,28.2 211.5,27.8 199,49 197.5,48.5" fill="#e9efbb"/>
<path d="M204,28 C204.3,22 206,15.5 208,13.8 C210,15.5 212,22 212.6,28 Z" fill="#d6dd9e"/>
<path d="M208,13.8 C210,15.5 212,22 212.6,28 L209.5,28 Z" fill="#bcc287"/>
<!-- radar dish -->
<g>
<ellipse cx="157.2" cy="115.4" rx="16" ry="9.6" transform="rotate(40 157.2 115.4)" fill="#3c3c3c"/>
<ellipse cx="158.4" cy="113" rx="15.8" ry="9.2" transform="rotate(40 158.4 113)" fill="url(#dishG)"/>
<ellipse cx="153.5" cy="113.5" rx="2.2" ry="1.6" fill="#eeeeee" opacity="0.8"/>
<line x1="155.5" y1="114.5" x2="167" y2="105" stroke="#555" stroke-width="0.9"/>
<circle cx="167.4" cy="104.7" r="2" fill="#5a5a5a"/><circle cx="166.8" cy="104" r="0.7" fill="#999"/>
<path d="M141.3,124.5 L146.2,116.8 M141.3,124.5 L149,124" stroke="#222" stroke-width="0.8" fill="none"/>
<rect x="141.5" y="124.6" width="10" height="1.4" fill="#333"/>
<rect x="143.6" y="126" width="4.4" height="5" fill="#b5ab6a"/>
<rect x="142" y="131" width="7.5" height="2" fill="#3a3a3a"/>
<path d="M163.95,100.29 A5.6,5.6 0 0 1 172.99,104.31" stroke="url(#arcG)" stroke-width="1.1" fill="none"/>
<path d="M161.64,96.77 A9.8,9.8 0 0 1 177.18,104.02" stroke="url(#arcG)" stroke-width="1.2" fill="none"/>
<path d="M159.57,93.09 A14.0,14.0 0 0 1 181.37,103.72" stroke="url(#arcG)" stroke-width="1.3" fill="none"/>
</g>
<!-- axes at radar -->
<g stroke="#111" stroke-width="0.9" fill="none">
<line x1="155.3" y1="114.8" x2="155.3" y2="76"/>
<line x1="155.3" y1="114.8" x2="198" y2="100.8"/>
<line x1="155.3" y1="114.8" x2="189" y2="127"/>
</g>
<polygon points="155.3,74.5 153.6,79.5 157,79.5" fill="#111"/>
<polygon points="200,100.2 194.5,100.4 195.8,103.3" fill="#111"/>
<polygon points="190.5,127.5 185.5,124.5 184.6,127.8" fill="#111"/>
<line x1="200" y1="100.2" x2="246" y2="83.3" stroke="#9fc0dc" stroke-width="0.8" stroke-dasharray="1.2,1"/>
<!-- aircraft axes -->
<g stroke="#111" stroke-width="0.9" fill="none">
<line x1="290.2" y1="68.2" x2="290.2" y2="29.5"/>
<line x1="290.1" y1="68.2" x2="249.5" y2="82.2"/>
<line x1="290.1" y1="68.2" x2="322" y2="78"/>
</g>
<polygon points="290.2,26.8 288.6,30.5 291.8,30.5" fill="#111"/>
<polygon points="247.3,83 252.5,80 253.3,83.2" fill="#111"/>
<polygon points="324.5,78.8 319,76 318.3,79.3" fill="#111"/>
<g font-family="Liberation Serif, Times New Roman, serif" font-style="italic" fill="#111">
<text x="294.3" y="32.8" font-size="12">Z</text>
<text x="293.8" y="65.5" font-size="11">O</text>
<text x="237.8" y="81.8" font-size="11">X</text>
<text x="326" y="88.5" font-size="11">Y</text>
<text x="160.3" y="76.7" font-size="11.8">Z<tspan font-size="8.5" dy="2.8">0</tspan></text>
<text x="207.3" y="107.8" font-size="12">Y<tspan font-size="8.8" dy="2.6">0</tspan></text>
<text x="192.3" y="132.9" font-size="12.3">X<tspan font-size="8.8" dy="2.6">0</tspan></text>
<text x="126.8" y="121.3" font-size="11.8">O<tspan font-size="8.8" dy="2.4">0</tspan></text>
</g>
</g>

<text x="174" y="153.1" font-size="12.3" fill="#111" stroke="#111" stroke-width="0.2" font-family="Liberation Serif, Times New Roman, serif">Pitch angle of 0<tspan dy="-3.2" font-size="8" stroke-width="0">°</tspan><tspan dy="3.2" dx="1.8">and azimuth angle of 0</tspan><tspan dy="-3.2" font-size="8" stroke-width="0">°</tspan><tspan dy="3.2" dx="0.6">.</tspan></text>
<text x="279.2" y="176.2" font-size="16.2" text-anchor="middle" fill="#111" font-family="Liberation Serif, Times New Roman, serif">(<tspan font-weight="bold">a</tspan>)</text>
</svg>
</body></html>
